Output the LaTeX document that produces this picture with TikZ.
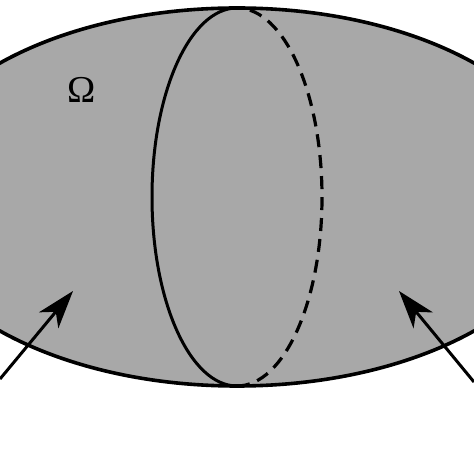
\documentclass[tikz,border=0pt]{standalone}
\usepackage{fontspec}
\setmainfont{Liberation Serif}
\usetikzlibrary{arrows.meta}
\tikzset{
  omegaregion/.style={fill=black!34, draw=black, line width=3.6pt},
  rimline/.style={draw=black, line width=3pt},
  hiddenline/.style={rimline, line width=3.2pt, dash pattern=on 13pt off 8pt},
  pointer/.style={draw=black, line width=3pt, -{Stealth[length=38pt,width=25pt,inset=11pt]}}
}
\begin{document}
\begin{tikzpicture}[x=1pt,y=1pt]
\useasboundingbox (0,0) rectangle (474,474);
\clip (0,0) rectangle (474,474);
\coordinate (c) at (237,277);
\path[omegaregion] (c) ellipse[x radius=336, y radius=189];
\coordinate (top) at (237,466);
\coordinate (bot) at (237,88);
\draw[rimline] (top) arc[start angle=90, end angle=270, x radius=85, y radius=189];
\draw[hiddenline] (bot) arc[start angle=270, end angle=450, x radius=85, y radius=189];
\node (omega) at (82,384) {\fontsize{38}{42}\selectfont Ω};
\coordinate (l0) at (0,95);
\coordinate (l1) at (73,183);
\coordinate (r0) at (474,92);
\coordinate (r1) at (399,183);
\draw[pointer] (l0) -- (l1);
\draw[pointer] (r0) -- (r1);
\end{tikzpicture}
\end{document}
